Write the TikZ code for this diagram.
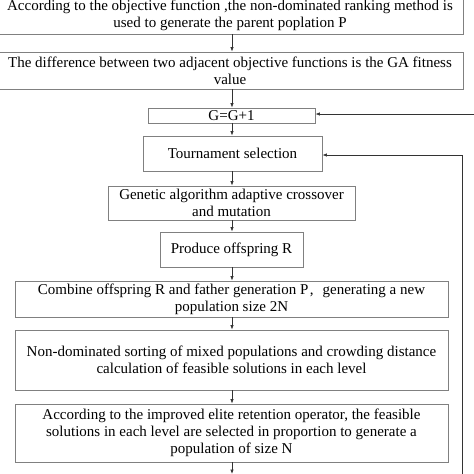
\documentclass[tikz,border=0pt]{standalone}
\usepackage{fontspec}
\setmainfont{Liberation Serif}
\usetikzlibrary{arrows.meta}
\begin{document}
\begin{tikzpicture}[x=1pt,y=-1pt,
  box/.style={draw=black!50,line width=0.9pt,fill=white,align=center,inner sep=0pt,
    font=\fontsize{15}{17}\selectfont,text=black},
  arr/.style={draw=black!80,line width=0.7pt,-{Latex[length=4.5pt,width=3.5pt]}}]
\useasboundingbox[fill=white] (0,0) rectangle (474,474);
\node[box,minimum width=466pt,minimum height=37pt] (b1) at (230,15.5)
  {According to the objective function ,the non-dominated ranking method is\\used to generate the parent poplation P};
\node[box,minimum width=466pt,minimum height=37pt] (b2) at (230,70.5)
  {The difference between two adjacent objective functions is the GA fitness\\value};
\node[box,minimum width=167pt,minimum height=15pt] (b3) at (231.5,115.5) {G=G+1};
\node[box,minimum width=179pt,minimum height=35pt] (b4) at (232.5,153.5) {Tournament selection};
\node[box,minimum width=247pt,minimum height=34pt] (b5) at (231.5,203)
  {Genetic algorithm adaptive crossover\\and mutation};
\node[box,minimum width=143pt,minimum height=35pt] (b6) at (231.5,249.5) {Produce offspring R};
\node[box,minimum width=433pt,minimum height=36pt] (b7) at (231.5,299)
  {Combine offspring R and father generation P\kern0.1em,\kern0.6em generating a new\\population size 2N};
\node[box,minimum width=433pt,minimum height=60pt] (b8) at (231.5,360)
  {Non-dominated sorting of mixed populations and crowding distance\\calculation of feasible solutions in each level};
\node[box,minimum width=433pt,minimum height=58pt] (b9) at (231.5,433)
  {According to the improved elite retention operator, the feasible\\solutions in each level are selected in proportion to generate a\\population of size N};
\coordinate (f1) at (474,114);
\coordinate (f2) at (462,474);
\coordinate (f2c) at (462,155);
\coordinate (end) at (232,474);
\draw[arr] (b1.south -| 232,0) -- (b2.north -| 232,0);
\draw[arr] (b2.south -| 232,0) -- (b3.north -| 232,0);
\draw[arr] (b3.south -| 232,0) -- (b4.north -| 232,0);
\draw[arr] (b4.south -| 232,0) -- (b5.north -| 232,0);
\draw[arr] (b5.south -| 232,0) -- (b6.north -| 232,0);
\draw[arr] (b6.south -| 232,0) -- (b7.north -| 232,0);
\draw[arr] (b7.south -| 232,0) -- (b8.north -| 232,0);
\draw[arr] (b8.south -| 232,0) -- (b9.north -| 232,0);
\draw[arr] (b9.south -| 232,0) -- (end);
\draw[arr] (f1) -- (b3.east |- f1);
\draw[arr] (f2) -- (f2c) -- (b4.east |- f2c);
\end{tikzpicture}
\end{document}
